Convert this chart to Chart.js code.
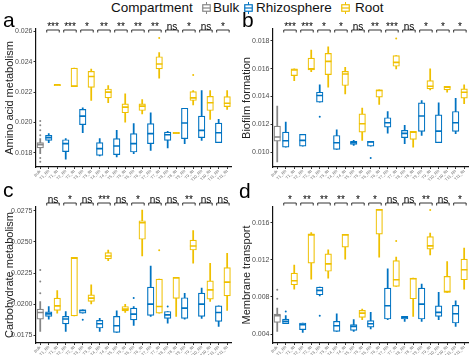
<!DOCTYPE html>
<html><head><meta charset="utf-8">
<script src="https://cdn.jsdelivr.net/npm/chart.js@4.4.1/dist/chart.umd.min.js"></script>
<style>
html,body{margin:0;padding:0;background:#fff;width:474px;height:355px;overflow:hidden;font-family:"Liberation Sans",Arial,sans-serif;}
canvas,svg{position:absolute;}
.lbl{position:absolute;font-size:21px;line-height:21px;color:#000;}
.leg{position:absolute;font-size:13.5px;line-height:14px;top:1px;color:#111;white-space:nowrap;}
</style></head><body>
<div class="leg" style="left:111px">Compartment</div>
<svg style="left:202px;top:2px" width="9" height="12"><line x1="4.5" y1="0" x2="4.5" y2="12" stroke="#868686" stroke-width="1"/><rect x="0.75" y="2.75" width="7.5" height="6.5" fill="#fff" stroke="#868686" stroke-width="1.2"/><line x1="0.75" y1="6" x2="8.25" y2="6" stroke="#868686" stroke-width="1.2"/></svg>
<div class="leg" style="left:213px">Bulk</div>
<svg style="left:244px;top:2px" width="9" height="12"><line x1="4.5" y1="0" x2="4.5" y2="12" stroke="#0073C2" stroke-width="1"/><rect x="0.75" y="2.75" width="7.5" height="6.5" fill="#fff" stroke="#0073C2" stroke-width="1.2"/><line x1="0.75" y1="6" x2="8.25" y2="6" stroke="#0073C2" stroke-width="1.2"/></svg>
<div class="leg" style="left:256px">Rhizosphere</div>
<svg style="left:341px;top:2px" width="9" height="12"><line x1="4.5" y1="0" x2="4.5" y2="12" stroke="#EFC000" stroke-width="1"/><rect x="0.75" y="2.75" width="7.5" height="6.5" fill="#fff" stroke="#EFC000" stroke-width="1.2"/><line x1="0.75" y1="6" x2="8.25" y2="6" stroke="#EFC000" stroke-width="1.2"/></svg>
<div class="leg" style="left:355px">Root</div>

<canvas id="ca" width="237" height="168" style="left:0;top:14px"></canvas>
<canvas id="cb" width="237" height="168" style="left:237px;top:14px"></canvas>
<canvas id="cc" width="237" height="170" style="left:0;top:185px"></canvas>
<canvas id="cd" width="237" height="170" style="left:237px;top:185px"></canvas>

<div class="lbl" style="left:3px;top:9px">a</div>
<div class="lbl" style="left:242px;top:9px">b</div>
<div class="lbl" style="left:3px;top:179px">c</div>
<div class="lbl" style="left:239px;top:180px">d</div>

<script>
// ---------- categories ----------
const categories = ['Bulk',
  'T1_Rh','T1_Rt','T2_Rh','T2_Rt','T3_Rh','T3_Rt','T4_Rh','T4_Rt','T5_Rh','T5_Rt',
  'T6_Rh','T6_Rt','T7_Rh','T7_Rt','T8_Rh','T8_Rt','T9_Rh','T9_Rt','T10_Rh','T10_Rt',
  'T11_Rh','T11_Rt'];
const compartments = ['Bulk','Rhizosphere','Root'];

// ---------- a: Amino acid metabolism ----------
const aminoMin = [0.01793,0.01866,0.02242,0.01756,0.02236,0.01931,0.02144,0.01778,0.02129,0.01772,0.02001,0.01793,0.02056,0.01815,0.02291,0.01831,0.01925,0.01859,0.02115,0.01881,0.02019,0.01866,0.02085];
const aminoQ1  = [0.01831,0.01881,0.02242,0.01807,0.02236,0.01984,0.02231,0.01782,0.02161,0.01787,0.02063,0.01804,0.02078,0.01859,0.02352,0.01881,0.01925,0.01892,0.02144,0.01899,0.02078,0.01866,0.02104];
const aminoMed = [0.01853,0.01899,0.02247,0.01859,0.02240,0.02041,0.02302,0.01826,0.02199,0.01844,0.02100,0.01859,0.02107,0.01925,0.02385,0.01918,0.01929,0.01995,0.02161,0.01947,0.02129,0.01931,0.02126];
const aminoQ3  = [0.01866,0.01914,0.02249,0.01885,0.02358,0.02085,0.02337,0.01866,0.02220,0.01892,0.02122,0.01925,0.02122,0.01991,0.02433,0.01936,0.01934,0.02093,0.02203,0.02041,0.02172,0.01995,0.02170];
const aminoMax = [0.01892,0.01925,0.02249,0.01892,0.02358,0.02096,0.02352,0.01892,0.02242,0.01947,0.02188,0.01991,0.02150,0.02063,0.02461,0.01940,0.01934,0.02093,0.02210,0.02210,0.02210,0.02019,0.02210];
const aminoOutCat = [0,0,0,0,0,0,14,18];
const aminoOutVal = [0.02008,0.01980,0.01947,0.01914,0.01765,0.01739,0.02556,0.02312];
const aminoSig = ['***','***','*','**','**','**','**','ns','*','ns','*'];
const aminoTicks = [0.018,0.020,0.022,0.024,0.026];

// ---------- b: Biofilm formation ----------
const biofilmMin = [0.00931,0.01038,0.01514,0.01045,0.01579,0.01360,0.01467,0.01021,0.01419,0.01050,0.01086,0.01045,0.01343,0.01138,0.01598,0.01062,0.01038,0.01121,0.01448,0.01069,0.01431,0.01133,0.01348];
const biofilmQ1  = [0.01081,0.01038,0.01550,0.01045,0.01590,0.01360,0.01557,0.01021,0.01479,0.01057,0.01145,0.01045,0.01395,0.01181,0.01617,0.01105,0.01093,0.01150,0.01455,0.01069,0.01448,0.01150,0.01388];
const biofilmMed = [0.01110,0.01083,0.01590,0.01086,0.01598,0.01407,0.01652,0.01069,0.01562,0.01069,0.01205,0.01074,0.01443,0.01212,0.01645,0.01136,0.01145,0.01260,0.01474,0.01152,0.01467,0.01212,0.01431];
const biofilmQ3  = [0.01188,0.01145,0.01598,0.01129,0.01676,0.01431,0.01709,0.01121,0.01581,0.01079,0.01276,0.01079,0.01448,0.01248,0.01693,0.01157,0.01150,0.01355,0.01514,0.01269,0.01474,0.01293,0.01455];
const biofilmMax = [0.01331,0.01217,0.01598,0.01129,0.01733,0.01483,0.01757,0.01162,0.01609,0.01086,0.01317,0.01079,0.01448,0.01293,0.01693,0.01193,0.01150,0.01371,0.01598,0.01355,0.01474,0.01388,0.01483];
const biofilmOutCat = [5,11,14];
const biofilmOutVal = [0.01255,0.00960,0.01816];
const biofilmSig = ['***','***','*','*','ns','**','***','ns','*','*','*'];
const biofilmTicks = [0.010,0.012,0.014,0.016,0.018];

// ---------- c: Carbohydrate metabolism ----------
const carbMin = [0.01782,0.01881,0.01929,0.01782,0.01907,0.01929,0.02003,0.01782,0.02350,0.01774,0.01934,0.01830,0.02387,0.01902,0.01929,0.01849,0.01902,0.01881,0.02329,0.01887,0.02022,0.01822,0.01950];
const carbQ1  = [0.01881,0.01902,0.01950,0.01843,0.01907,0.01929,0.02022,0.01809,0.02363,0.01774,0.01947,0.01875,0.02521,0.01910,0.01929,0.01887,0.02047,0.01887,0.02435,0.01902,0.02041,0.01862,0.02067];
const carbMed = [0.01934,0.01923,0.01987,0.01881,0.02370,0.01950,0.02049,0.01843,0.02387,0.01827,0.01961,0.01921,0.02654,0.02001,0.01982,0.01915,0.02212,0.01969,0.02467,0.02001,0.02115,0.01934,0.02177];
const carbQ3  = [0.01961,0.01939,0.02049,0.01902,0.02377,0.01955,0.02075,0.01870,0.02414,0.01902,0.01982,0.01969,0.02670,0.02137,0.02201,0.01942,0.02214,0.02052,0.02515,0.02089,0.02187,0.01987,0.02294];
const carbMax = [0.02022,0.01982,0.02110,0.01942,0.02377,0.01955,0.02155,0.01887,0.02435,0.01947,0.02000,0.01982,0.02755,0.02307,0.02201,0.01942,0.02214,0.02087,0.02590,0.02129,0.02329,0.01987,0.02409];
const carbOutCat = [0,0,0,5,11,14,15];
const carbOutVal = [0.02275,0.02182,0.02089,0.01875,0.02049,0.02433,0.01982];
const carbSig = ['ns','*','ns','***','ns','*','ns','ns','**','ns','ns'];
const carbTicks = [0.0175,0.0200,0.0225,0.0250,0.0275];

// ---------- d: Membrane transport ----------
const membMin = [0.00429,0.00511,0.00885,0.00418,0.00993,0.00812,0.01004,0.00429,0.01209,0.00429,0.00555,0.00454,0.01230,0.00555,0.00914,0.00537,0.00590,0.00537,0.01255,0.00555,0.00849,0.00483,0.00885];
const membQ1  = [0.00526,0.00511,0.00932,0.00447,0.01166,0.00824,0.01078,0.00429,0.01338,0.00440,0.00580,0.00475,0.01478,0.00562,0.00914,0.00562,0.00781,0.00562,0.01316,0.00590,0.00849,0.00519,0.00986];
const membMed = [0.00598,0.00537,0.00975,0.00501,0.01471,0.00871,0.01158,0.00490,0.01471,0.00483,0.00626,0.00511,0.01740,0.00705,0.00986,0.00580,0.00997,0.00723,0.01352,0.00634,0.00860,0.00619,0.01094];
const membQ3  = [0.00616,0.00562,0.01058,0.00519,0.01482,0.00907,0.01266,0.00537,0.01478,0.00501,0.00655,0.00544,0.01748,0.00896,0.01194,0.00590,0.01004,0.00896,0.01453,0.00705,0.01022,0.00709,0.01209];
const membMax = [0.00680,0.00598,0.01144,0.00519,0.01496,0.00907,0.01309,0.00619,0.01478,0.00555,0.00670,0.00634,0.01748,0.01104,0.01230,0.00590,0.01004,0.00939,0.01489,0.00849,0.01183,0.00759,0.01327];
const membOutCat = [0,0,1,5,14,18];
const membOutVal = [0.00878,0.00781,0.00644,0.00598,0.01406,0.01740];
const membSig = ['*','**','**','**','*','*','ns','ns','**','ns','*'];
const membTicks = [0.004,0.008,0.012,0.016];

// ---------- styling ----------
const compColors = {Bulk:'#868686', Rhizosphere:'#0073C2', Root:'#EFC000'};
const compOf = i => i === 0 ? compartments[0] : (i % 2 === 1 ? compartments[1] : compartments[2]);
const catColors = categories.map((c, i) => compColors[compOf(i)]);
Chart.defaults.font.family = '"Liberation Sans", Arial, sans-serif';

function sigPlugin(sig, bracketY) {
  return {
    id: 'sig',
    afterDraw(chart) {
      const ctx = chart.ctx, xs = chart.scales.x;
      ctx.save();
      ctx.strokeStyle = '#000';
      ctx.fillStyle = '#000';
      ctx.lineWidth = 0.8;
      ctx.font = '10px "Liberation Sans", Arial, sans-serif';
      ctx.textAlign = 'center';
      ctx.textBaseline = 'alphabetic';
      sig.forEach((s, k) => {
        const x1 = xs.getPixelForValue(1 + 2 * k) - 2;
        const x2 = xs.getPixelForValue(2 + 2 * k) + 2;
        ctx.beginPath();
        ctx.moveTo(x1, bracketY + 2.5);
        ctx.lineTo(x1, bracketY);
        ctx.lineTo(x2, bracketY);
        ctx.lineTo(x2, bracketY + 2.5);
        ctx.stroke();
        ctx.fillText(s, (x1 + x2) / 2, bracketY - 0.5);
      });
      ctx.restore();
    }
  };
}

function makePanel(id, p) {
  const outs = p.outCat.map((c, k) => ({x: categories[c], y: p.outVal[k]}));
  new Chart(document.getElementById(id), {
    type: 'bar',
    data: {
      labels: categories,
      datasets: [
        {label: 'whisker', data: p.min.map((v, i) => [v, p.max[i]]), backgroundColor: catColors,
         borderWidth: 0, barThickness: 1.1, grouped: false, order: 3},
        {label: 'box', data: p.q1.map((v, i) => [v, p.q3[i]]), backgroundColor: '#ffffff',
         borderColor: catColors, borderWidth: 1.2, borderSkipped: false, barThickness: 6.5, grouped: false, order: 2},
        {type: 'line', label: 'median', data: p.med, showLine: false, pointStyle: 'line',
         pointRadius: 3.25, pointBorderWidth: 1.6, pointBorderColor: catColors, order: 1},
        {type: 'line', label: 'outlier', data: outs, showLine: false, pointStyle: 'circle',
         pointRadius: 1, pointBorderWidth: 0,
         pointBackgroundColor: c => catColors[categories.indexOf(c.raw ? c.raw.x : 'Bulk')], order: 0}
      ]
    },
    options: {
      responsive: false, animation: false, events: [], devicePixelRatio: 1,
      layout: {padding: {top: p.padTop, right: 1, bottom: 0, left: 0}},
      plugins: {legend: {display: false}, tooltip: {enabled: false}},
      scales: {
        x: {
          offset: true,
          grid: {display: true, drawOnChartArea: false, drawTicks: true, tickLength: 2, color: '#333', offset: false},
          border: {display: true, color: '#111', width: 1.2},
          ticks: {autoSkip: false, minRotation: 45, maxRotation: 45, padding: 0,
                  font: {size: 4}, color: '#666'},
          afterFit: s => { s.height = p.xh; }
        },
        y: {
          min: p.yMin, max: p.yMax, beginAtZero: false,
          afterBuildTicks: s => { s.ticks = p.ticks.map(v => ({value: v})); },
          ticks: {callback: v => v.toFixed(p.dec), font: {size: 7}, color: '#4d4d4d', padding: 1},
          grid: {display: true, drawOnChartArea: false, drawTicks: true, tickLength: 2.5, color: '#333'},
          border: {display: true, color: '#111', width: 1.2},
          title: {display: true, text: p.title, font: {size: 11}, color: '#222', padding: {top: 3, bottom: 0}},
          afterFit: s => { s.width = 36; }
        }
      }
    },
    plugins: [sigPlugin(p.sig, p.bracketY)]
  });
}

makePanel('ca', {min: aminoMin, q1: aminoQ1, med: aminoMed, q3: aminoQ3, max: aminoMax,
  outCat: aminoOutCat, outVal: aminoOutVal, sig: aminoSig, ticks: aminoTicks, dec: 3,
  yMin: 0.01705, yMax: 0.02616, title: 'Amino acid metabolism', padTop: 15, xh: 15, bracketY: 16});
makePanel('cb', {min: biofilmMin, q1: biofilmQ1, med: biofilmMed, q3: biofilmQ3, max: biofilmMax,
  outCat: biofilmOutCat, outVal: biofilmOutVal, sig: biofilmSig, ticks: biofilmTicks, dec: 3,
  yMin: 0.00895, yMax: 0.01884, title: 'Biofilm formation', padTop: 15, xh: 15, bracketY: 16});
makePanel('cc', {min: carbMin, q1: carbQ1, med: carbMed, q3: carbQ3, max: carbMax,
  outCat: carbOutCat, outVal: carbOutVal, sig: carbSig, ticks: carbTicks, dec: 4,
  yMin: 0.01689, yMax: 0.0278, title: 'Carbohydrate metabolism', padTop: 22, xh: 12, bracketY: 18});
makePanel('cd', {min: membMin, q1: membQ1, med: membMed, q3: membQ3, max: membMax,
  outCat: membOutCat, outVal: membOutVal, sig: membSig, ticks: membTicks, dec: 3,
  yMin: 0.00303, yMax: 0.01772, title: 'Membrane transport', padTop: 22, xh: 12, bracketY: 18});
</script>
</body></html>
